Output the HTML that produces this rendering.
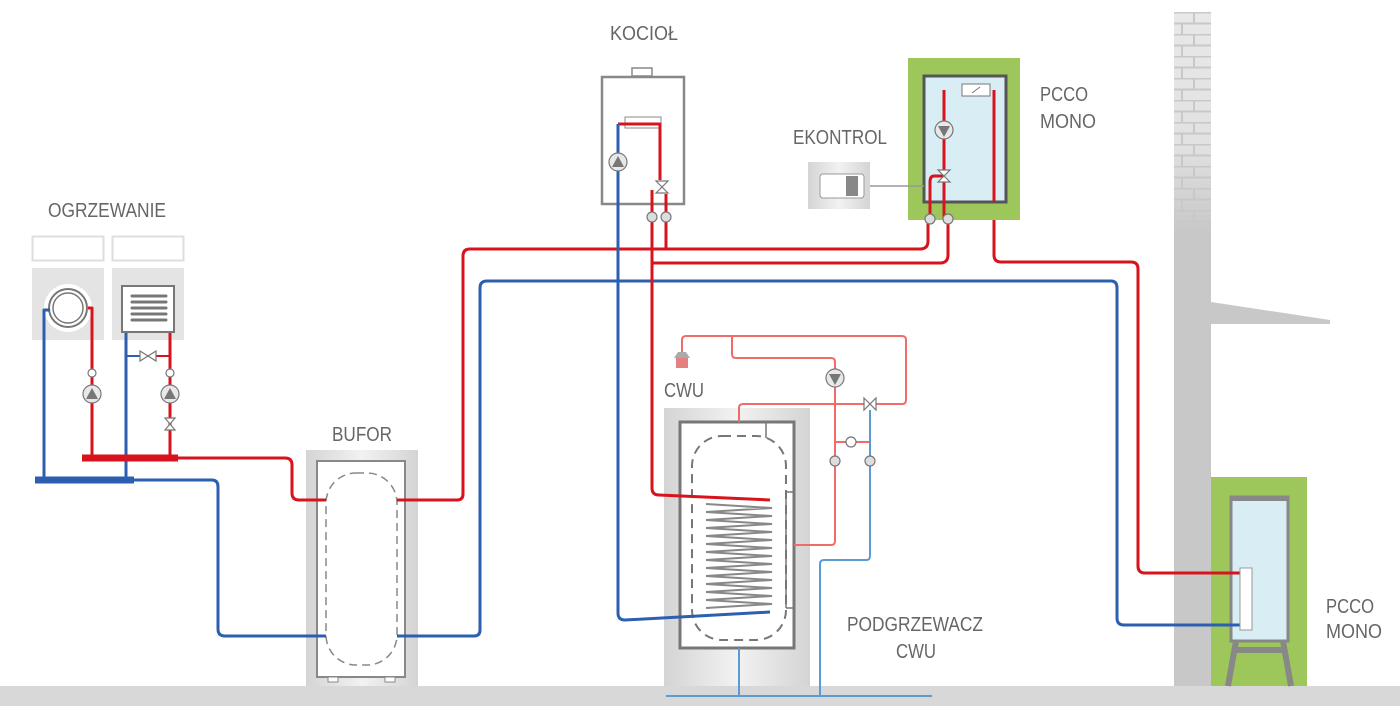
<!DOCTYPE html>
<html><head><meta charset="utf-8"><style>
html,body{margin:0;padding:0;background:#fff;width:1400px;height:724px;overflow:hidden}
svg text{font-family:"Liberation Sans Narrow","Liberation Sans",sans-serif;fill:#666;font-size:20px}
</style></head><body>
<svg width="1400" height="724" viewBox="0 0 1400 724" xmlns="http://www.w3.org/2000/svg">
<defs>
<linearGradient id="g1" x1="0" x2="1"><stop offset="0" stop-color="#d4d4d4"/><stop offset=".5" stop-color="#f2f2f2"/><stop offset="1" stop-color="#d4d4d4"/></linearGradient>
<pattern id="brick" width="37" height="22" patternUnits="userSpaceOnUse" x="1174" y="12">
<rect width="37" height="22" fill="#e8e8e8"/>
<line x1="0" y1="0.5" x2="37" y2="0.5" stroke="#c8c8c8" stroke-width="2"/>
<line x1="0" y1="11.5" x2="37" y2="11.5" stroke="#c8c8c8" stroke-width="2"/>
<line x1="20" y1="0" x2="20" y2="11" stroke="#c8c8c8" stroke-width="2"/>
<line x1="8" y1="11" x2="8" y2="22" stroke="#c8c8c8" stroke-width="2"/>
</pattern>
<linearGradient id="fade" x1="0" y1="0" x2="0" y2="1"><stop offset="0" stop-color="#c8c8c8" stop-opacity="0"/><stop offset=".6" stop-color="#c8c8c8" stop-opacity=".2"/><stop offset="1" stop-color="#c8c8c8"/></linearGradient>
</defs>
<!-- ground -->
<rect x="0" y="686" width="1400" height="20" fill="#d8d8d8"/>
<!-- wall -->
<rect x="1174" y="12" width="37" height="674" fill="#c8c8c8"/>
<rect x="1174" y="12" width="37" height="220" fill="url(#brick)"/>
<rect x="1174" y="12" width="37" height="220" fill="url(#fade)"/>
<polygon points="1211,302 1330,320 1330,324 1211,324" fill="#c8c8c8"/>
<!-- outdoor unit -->
<rect x="1211" y="477" width="96" height="209" fill="#9dc75b"/>
<rect x="1231" y="497" width="57" height="144" fill="#d9edf4" stroke="#888" stroke-width="3"/>
<rect x="1231" y="496" width="57" height="5" fill="#888"/>
<path d="M1236 641 L1228 686 M1283 641 L1291 686 M1234 650 H1285" stroke="#888" stroke-width="6" fill="none"/>
<text x="1326" y="613" textLength="48" lengthAdjust="spacingAndGlyphs">PCCO</text><text x="1326" y="638" textLength="56" lengthAdjust="spacingAndGlyphs">MONO</text>
<!-- heating -->
<text x="48" y="217" textLength="118" lengthAdjust="spacingAndGlyphs">OGRZEWANIE</text>
<rect x="32.5" y="236.5" width="71" height="24" fill="#fff" stroke="#ddd" stroke-width="2"/>
<rect x="112.5" y="236.5" width="71" height="24" fill="#fff" stroke="#ddd" stroke-width="2"/>
<rect x="32" y="268" width="72" height="72" fill="#e4e4e4"/>
<rect x="112" y="268" width="72" height="72" fill="#e4e4e4"/>
<circle cx="68" cy="308" r="24" fill="#fff"/>
<circle cx="68" cy="308" r="19" fill="#fff" stroke="#777" stroke-width="2"/>
<circle cx="68" cy="308" r="15" fill="#fff" stroke="#777" stroke-width="1.5"/>
<rect x="122" y="286" width="52" height="46" fill="#fff" stroke="#777" stroke-width="2"/>
<path d="M132 296H166M132 302H166M132 308H166M132 314H166M132 320H166" stroke="#777" stroke-width="3" stroke-linecap="round"/>
<!-- bufor -->
<text x="332" y="441" textLength="60" lengthAdjust="spacingAndGlyphs">BUFOR</text>
<rect x="306" y="450" width="112" height="236" fill="url(#g1)"/>
<rect x="317" y="461" width="88" height="216" fill="#fff" stroke="#888" stroke-width="2"/>
<rect x="326" y="473" width="71" height="192" rx="30" fill="none" stroke="#888" stroke-width="1.5" stroke-dasharray="8 5"/>
<rect x="328" y="677" width="10" height="5" fill="#fff" stroke="#888"/><rect x="385" y="677" width="10" height="5" fill="#fff" stroke="#888"/>
<!-- CWU tank -->
<text x="664" y="397" textLength="40" lengthAdjust="spacingAndGlyphs">CWU</text>
<rect x="664" y="408" width="146" height="278" fill="url(#g1)"/>
<rect x="680" y="422" width="114" height="226" fill="#fff" stroke="#777" stroke-width="3"/>
<rect x="692" y="436" width="94" height="204" rx="30" fill="none" stroke="#777" stroke-width="2" stroke-dasharray="9 6"/>
<path d="M706 504L772 508L706 512L772 516L706 520L772 524L706 528L772 532L706 536L772 540L706 544L772 548L706 552L772 556L706 560L772 564L706 568L772 572L706 576L772 580L706 584L772 588L706 592L772 596L706 600L772 604L706 608" fill="none" stroke="#888" stroke-width="2"/>
<path d="M766 422V438M786 492H794M786 608H794M786 492V608" stroke="#777" stroke-width="1.5" fill="none"/>
<!-- heating pipes -->
<g fill="none" stroke-linejoin="round">
<path d="M44 480V310H50" stroke="#2d5fb0" stroke-width="3"/>
<path d="M88 308H92V458" stroke="#d7141e" stroke-width="3"/>
<path d="M126 480V333" stroke="#2d5fb0" stroke-width="3"/>
<path d="M170 333V458" stroke="#d7141e" stroke-width="3"/>
<path d="M126 356H170" stroke="#d7141e" stroke-width="2"/>
<path d="M126 356H140" stroke="#2d5fb0" stroke-width="2"/>
<path d="M82 458H178" stroke="#d7141e" stroke-width="7"/>
<path d="M35 480H134" stroke="#2d5fb0" stroke-width="7"/>
<path d="M178 458H285Q292 458 292 465V493Q292 500 299 500H326" stroke="#d7141e" stroke-width="3"/>
<path d="M134 480H212Q218 480 218 487V629Q218 636 225 636H326" stroke="#2d5fb0" stroke-width="3"/>
</g>
<g stroke="#777" fill="#fff" stroke-width="1.2">
<path d="M140 351L148 356L140 361ZM156 351L148 356L156 361Z"/>
<circle cx="92" cy="394" r="9" fill="#e8e8e8"/><circle cx="170" cy="394" r="9" fill="#e8e8e8"/>
<circle cx="92" cy="373" r="4"/><circle cx="170" cy="373" r="4"/>
<path d="M165 418L175 430H165L175 418Z"/>
</g>
<path d="M86 399L92 388L98 399Z M164 399L170 388L176 399Z" fill="#777"/>
<!-- boiler -->
<text x="610" y="40" textLength="68" lengthAdjust="spacingAndGlyphs">KOCIOŁ</text>
<rect x="632" y="68" width="20" height="8" fill="#fff" stroke="#888" stroke-width="1.5"/>
<rect x="602" y="77" width="82" height="127" fill="#fff" stroke="#888" stroke-width="2.5"/>
<rect x="625" y="117" width="36" height="11" fill="#fff" stroke="#888"/>
<!-- main pipes -->
<g fill="none" stroke-linejoin="round">
<path d="M397 500H457Q463 500 463 494V256Q463 249 470 249H920Q928 249 928 241V218" stroke="#d7141e" stroke-width="3"/>
<path d="M652 263H940Q948 263 948 255V218" stroke="#d7141e" stroke-width="3"/>
<path d="M397 636H474Q480 636 480 630V288Q480 281 487 281H1111Q1117 281 1117 288V618Q1117 625 1124 625H1240" stroke="#2d5fb0" stroke-width="3"/>
<path d="M994 90V255Q994 262 1001 262H1131Q1138 262 1138 269V566Q1138 573 1145 573H1240" stroke="#d7141e" stroke-width="3"/>
<path d="M618 124H660V180 M666 194V249" stroke="#d7141e" stroke-width="3"/>
<path d="M652 190V488Q652 495 659 495L770 500" stroke="#d7141e" stroke-width="3"/>
<path d="M618 124V613Q618 620 625 620L770 612" stroke="#2d5fb0" stroke-width="3"/>
<path d="M944 90H962M990 90H994" stroke="#d7141e" stroke-width="3"/>
</g>
<rect x="1240" y="568" width="12" height="62" fill="#fff" stroke="#999"/>
<g stroke="#777" fill="#fff" stroke-width="1.2">
<circle cx="618" cy="162" r="9" fill="#e8e8e8"/>
<path d="M656 181L668 193H656L668 181Z"/>
<circle cx="652" cy="217" r="5" fill="#ddd"/><circle cx="666" cy="217" r="5" fill="#ddd"/>
</g>
<path d="M612 167L618 156L624 167Z" fill="#777"/>
<!-- pcco indoor -->
<rect x="908" y="58" width="112" height="162" fill="#9dc75b"/>
<rect x="924" y="76" width="82" height="126" fill="#d9edf4" stroke="#555" stroke-width="3"/>
<g fill="none"><path d="M944 90V170M944 182V218M944 176H934Q930 176 930 182V218" stroke="#d7141e" stroke-width="3"/></g>
<path d="M994 90V202" stroke="#d7141e" stroke-width="3"/>
<rect x="962" y="84" width="28" height="12" fill="#fff" stroke="#777"/>
<path d="M972 93L980 87" stroke="#777"/>
<g stroke="#777" fill="#fff" stroke-width="1.2">
<circle cx="944" cy="130" r="9" fill="#e8e8e8"/>
<path d="M938 170L950 182H938L950 170Z"/>
<circle cx="930" cy="219" r="5" fill="#ddd"/><circle cx="948" cy="219" r="5" fill="#ddd"/>
</g>
<path d="M938 126L950 126L944 137Z" fill="#777"/>
<text x="1040" y="101" textLength="48" lengthAdjust="spacingAndGlyphs">PCCO</text><text x="1040" y="128" textLength="56" lengthAdjust="spacingAndGlyphs">MONO</text>
<text x="793" y="144" textLength="94" lengthAdjust="spacingAndGlyphs">EKONTROL</text>
<rect x="808" y="162" width="62" height="47" fill="url(#g1)"/>
<rect x="820" y="174" width="44" height="24" rx="3" fill="#fff" stroke="#999"/>
<rect x="846" y="176" width="12" height="20" fill="#888"/>
<line x1="870" y1="186" x2="924" y2="186" stroke="#999" stroke-width="1.5"/>
<!-- CWU pipes -->
<g fill="none" stroke="#f26b6b" stroke-width="2" stroke-linejoin="round">
<path d="M739 422V408Q739 404 743 404H864"/>
<path d="M876 404H902Q906 404 906 400V340Q906 336 902 336H686Q682 336 682 340V352"/>
<path d="M732 336V354Q732 358 736 358H831Q835 358 835 362V541Q835 545 831 545H794"/>
<path d="M835 442H870"/>
</g>
<g fill="none" stroke="#5b9bd5" stroke-width="2">
<path d="M870 410V556Q870 560 866 560H824Q820 560 820 564V696"/>
<path d="M739 648V696M666 696H932"/>
</g>
<path d="M678 352H686L690 358H674Z" fill="#aaa"/><rect x="676" y="358" width="12" height="10" fill="#e58080"/>
<g stroke="#777" fill="#fff" stroke-width="1.2">
<circle cx="835" cy="378" r="9" fill="#e8e8e8"/>
<path d="M864 398L876 410V398L864 410Z"/>
<circle cx="835" cy="461" r="5" fill="#ddd"/><circle cx="870" cy="461" r="5" fill="#ddd"/>
<circle cx="851" cy="442" r="5"/>
</g>
<path d="M829 374L841 374L835 385Z" fill="#777"/>
<text x="847" y="631" textLength="136" lengthAdjust="spacingAndGlyphs">PODGRZEWACZ</text><text x="896" y="658" textLength="40" lengthAdjust="spacingAndGlyphs">CWU</text>
</svg>
</body></html>
